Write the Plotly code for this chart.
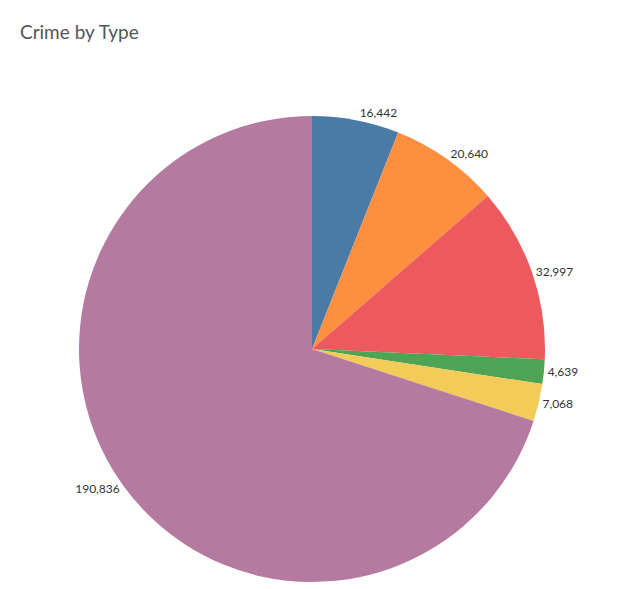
import plotly.graph_objects as go

types = ["Type A", "Type B", "Type C", "Type D", "Type E", "Type F"]
counts = [16442, 20640, 32997, 4639, 7068, 190836]
colors = ["#4a7aa6", "#fd8f3f", "#ec5a5f", "#4ea354", "#f2cb58", "#b47a9f"]

fig = go.Figure(go.Pie(
    labels=types, values=counts, sort=False, direction="clockwise", rotation=0,
    marker=dict(colors=colors),
    texttemplate="%{value:,}", textposition="outside",
    textfont=dict(family="Lato, Open Sans, sans-serif", size=12, color="#333"),
    showlegend=False, hoverinfo="label+value",
    domain=dict(x=[71/644, 537/644], y=[1-574/589, 1-108/589]),
))
fig.update_layout(
    width=644, height=589, margin=dict(l=0, r=0, t=0, b=0),
    paper_bgcolor="white", plot_bgcolor="white",
    title=dict(text="Crime by Type", x=12/644, y=1-24/589, xanchor="left", yanchor="middle",
               font=dict(family="Lato, Open Sans, sans-serif", size=19, color="#555")),
)
fig.write_html("out.html")
